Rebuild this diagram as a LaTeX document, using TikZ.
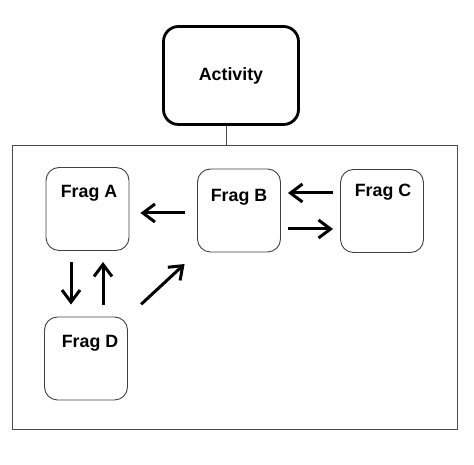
\documentclass[tikz,border=0pt]{standalone}
\usepackage{fontspec}
\setmainfont{Liberation Sans}
\usetikzlibrary{arrows.meta}

\begin{document}
\begin{tikzpicture}[x=1pt,y=1pt,
  frag/.style={rectangle,draw=black!75,line width=0.9pt,rounded corners=13pt,minimum width=83pt,minimum height=83pt,inner sep=0pt},
  fragtext/.style={font=\fontsize{17.8}{20}\selectfont\bfseries,inner sep=0pt},
  arr/.style={line width=3pt,-{Straight Barb[length=12pt,width=18pt,line width=3pt]}}]
\useasboundingbox (0,0) rectangle (474,465);
% x, y (y up)
\node[rectangle,draw=black!70,line width=0.9pt,minimum width=445pt,minimum height=284pt,inner sep=0pt] (frame) at (234.5,178) {};
\node[rectangle,draw=black,line width=2.8pt,rounded corners=15pt,minimum width=135pt,minimum height=98pt,font=\fontsize{17.8}{20}\selectfont\bfseries] (act) at (231,389.5) {Activity};
\draw[black!70,line width=0.9pt] ([xshift=-5pt]act.south) -- ([xshift=-5pt]act.south |- frame.north);
\node[frag] (fa) at (87.5,256) {};
\node[frag] (fb) at (239,254.5) {};
\node[frag] (fc) at (382,254) {};
\node[frag] (fd) at (86,106.5) {};
\node[fragtext] (ta) at (89,272) {Frag A};
\node[fragtext] (tb) at (239,268) {Frag B};
\node[fragtext] (tc) at (383,273) {Frag C};
\node[fragtext] (td) at (90,122) {Frag D};
% arrows
\draw[arr,shorten <=12pt,shorten >=11pt] ([yshift=-2.5pt]fb.west) -- ([yshift=-2.5pt]fb.west -| fa.east);
\draw[arr,shorten <=7pt,shorten >=7pt] ([yshift=18pt]fc.west) -- ([yshift=18pt]fc.west -| fb.east);
\draw[arr,shorten <=7pt,shorten >=7pt] ([yshift=-18.5pt]fb.east) -- ([yshift=-18.5pt]fb.east -| fc.west);
\draw[arr,shorten <=11pt,shorten >=12pt] ([xshift=-16.5pt]fa.south) -- ([xshift=-16.5pt]fa.south |- fd.north);
\draw[arr,shorten <=12pt,shorten >=11pt] ([xshift=17pt]fd.north) -- ([xshift=17pt]fd.north |- fa.south);
\draw[arr,shorten <=18pt,shorten >=17pt] (fd.north east) -- (fb.south west);
\end{tikzpicture}
\end{document}
